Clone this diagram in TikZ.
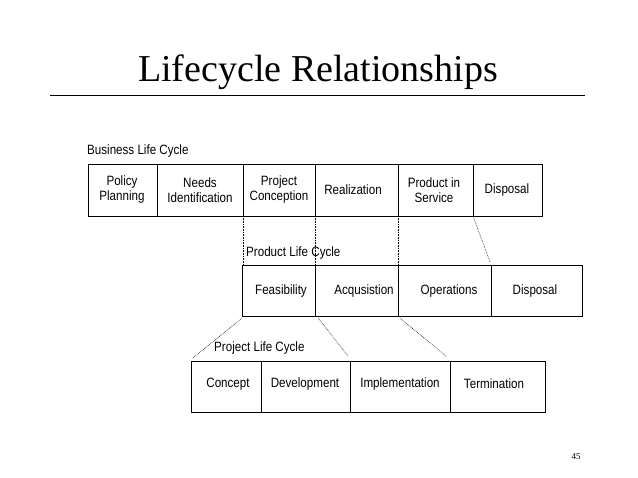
\documentclass[tikz,border=0pt]{standalone}
\usepackage{fontspec}
\setmainfont{Liberation Serif}
\newfontfamily\cell[FakeStretch=0.86]{Liberation Sans}
\begin{document}
\begin{tikzpicture}[x=1pt,y=-1pt,
  lbl/.style={font=\cell\fontsize{13.5}{15}\selectfont,align=center,inner sep=0pt},
  hdr/.style={font=\cell\fontsize{13.5}{15}\selectfont,anchor=west,inner sep=0pt},
  box/.style={draw,line width=0.8pt},
  div/.style={line width=0.8pt},
  dot/.style={densely dotted,line width=0.6pt}]
\useasboundingbox (0,0) rectangle (638,478);
\node[font=\fontsize{38}{42}\selectfont] (title) at (318,72) {Lifecycle Relationships};
\draw[line width=0.5pt] (50,95) -- (585,95);
\node[font=\fontsize{9}{10}\selectfont] (pg) at (576,457) {45};
% business
\node[hdr] (bh) at (87,151) {Business Life Cycle};
\draw[box] (88,164) rectangle (542,216);
\foreach \x in {157,243,315,398,473} \draw[div] (\x,164) -- (\x,216);
\node[lbl] (b1) at (122,190) {Policy\\Planning};
\node[lbl] (b2) at (200,190) {Needs\\Identification};
\node[lbl] (b3) at (279,190) {Project\\Conception};
\node[lbl] (b4) at (353,190) {Realization};
\node[lbl] (b5) at (434,190) {Product in\\Service};
\node[lbl] (b6) at (507,190) {Disposal};
% product
\node[hdr] (ph) at (246,253) {Product Life Cycle};
\draw[box] (242,265) rectangle (582,316);
\foreach \x in {315,398,491} \draw[div] (\x,265) -- (\x,316);
\node[lbl] (p1) at (281,291) {Feasibility};
\node[lbl] (p2) at (364,291) {Acqusistion};
\node[lbl] (p3) at (449,291) {Operations};
\node[lbl] (p4) at (535,291) {Disposal};
% project
\node[hdr] (jh) at (214,348) {Project Life Cycle};
\draw[box] (191,361) rectangle (545,412);
\foreach \x in {261,350,450} \draw[div] (\x,361) -- (\x,412);
\node[lbl] (j1) at (228,384) {Concept};
\node[lbl] (j2) at (305,384) {Development};
\node[lbl] (j3) at (400,384) {Implementation};
\node[lbl] (j4) at (494,384) {Termination};
% connectors
\coordinate (a1) at (243,216); \coordinate (a2) at (243,265);
\coordinate (c1) at (315,216); \coordinate (c2) at (315,265);
\coordinate (d1) at (398,216); \coordinate (d2) at (398,265);
\coordinate (e1) at (473,216); \coordinate (e2) at (490,262);
\coordinate (f1) at (242,318); \coordinate (f2) at (193,358);
\coordinate (g1) at (318,318); \coordinate (g2) at (348,356);
\coordinate (h1) at (400,318); \coordinate (h2) at (447,357);
\foreach \s/\t in {a1/a2,c1/c2,d1/d2,e1/e2,f1/f2,g1/g2,h1/h2} \draw[dot] (\s) -- (\t);
\end{tikzpicture}
\end{document}
